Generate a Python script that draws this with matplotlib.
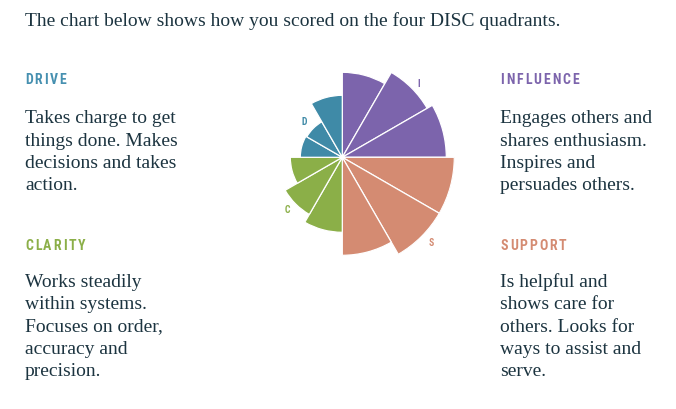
import numpy as np
import matplotlib
matplotlib.use("Agg")
import matplotlib.pyplot as plt

influence_scores = [85, 98, 104]
support_scores = [112, 112, 98]
clarity_scores = [75, 66, 52]
drive_scores = [42, 41, 62]

quadrant_letters = ["I", "S", "C", "D"]
quadrant_colors = ["#7c64ac", "#d48b72", "#8baf48", "#3f8aa7"]

title = "The chart below shows how you scored on the four DISC quadrants."
headings = ["DRIVE", "INFLUENCE", "CLARITY", "SUPPORT"]
heading_colors = ["#4690b0", "#7c64ac", "#8baf48", "#d48b72"]
blurbs = [
	["Takes charge to get", "things done. Makes", "decisions and takes", "action."],
	["Engages others and", "shares enthusiasm.", "Inspires and", "persuades others."],
	["Works steadily", "within systems.", "Focuses on order,", "accuracy and", "precision."],
	["Is helpful and", "shows care for", "others. Looks for", "ways to assist and", "serve."],
]

W, H = 676, 409
TEXT = "#1c3440"
SERIF = ["Liberation Serif", "DejaVu Serif"]
COND = ["Roboto Condensed", "DejaVu Sans Condensed", "Liberation Sans Narrow", "DejaVu Sans"]

fig = plt.figure(figsize=(W / 100, H / 100), dpi=100)
fig.patch.set_facecolor("white")

# wheel: center at (342, 157) px, outer limit 112.5 px
cx, cy, rmax = 342.3, 157.3, 112.5
ax = fig.add_axes([(cx - rmax) / W, (H - cy - rmax) / H, 2 * rmax / W, 2 * rmax / H], projection="polar")
ax.set_theta_zero_location("N")
ax.set_theta_direction(-1)

scores = influence_scores + support_scores + clarity_scores + drive_scores
colors = [c for c in quadrant_colors for _ in range(3)]
width = 2 * np.pi / len(scores)
theta = np.arange(len(scores)) * width + width / 2
ax.bar(theta, scores, width=width, color=colors, edgecolor="white", linewidth=0.9)
ax.plot(0, 0, "o", color="white", ms=2.5)
ax.set_ylim(0, rmax)
ax.set_axis_off()

# quadrant letters around the wheel (angle, radius)
for letter, color, (ang, r) in zip(quadrant_letters, quadrant_colors, [(46, 106), (134, 123), (226, 76), (313, 52)]):
	ax.text(np.deg2rad(ang), r, letter, color=color, fontsize=7, fontweight="bold",
			family=COND, fontstretch="condensed", ha="center", va="center")

def px(x, y):
	return x / W, 1 - y / H

fig.text(*px(25, 26), title, family=SERIF, fontsize=14, color=TEXT, va="baseline")

renderer = fig.canvas.get_renderer()

def tracked(x, y, word, color, track=1.9):
	# letter-spaced small caps heading
	for ch in word:
		t = fig.text(*px(x, y), ch, family=COND, fontstretch="condensed", fontweight="bold",
					 fontsize=10, color=color, va="baseline")
		x += t.get_window_extent(renderer).width + track

spots = [(25, 84), (500.5, 84), (25, 249.5), (500.5, 249.5)]
body_start = [123.3, 123.3, 286.7, 286.7]
for (x, y), head, hcol, lines, y0 in zip(spots, headings, heading_colors, blurbs, body_start):
	tracked(x, y, head, hcol)
	for i, line in enumerate(lines):
		fig.text(*px(x, y0 + i * 22.4), line, family=SERIF, fontsize=14, color=TEXT, va="baseline")

fig.savefig("out.png", dpi=100, facecolor="white")
